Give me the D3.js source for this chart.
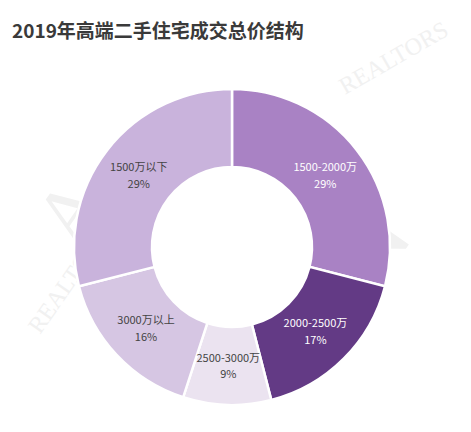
<!DOCTYPE html>
<html>
<head>
<meta charset="utf-8">
<script src="https://cdn.jsdelivr.net/npm/d3@7"></script>
<style>
  body { margin: 0; background: #fff; }
  svg { display: block; font-family: "Noto Sans CJK SC", "Noto Sans", sans-serif; }
</style>
</head>
<body>
<svg width="471" height="432"></svg>
<script>
var categories = ["1500-2000万", "2000-2500万", "2500-3000万", "3000万以上", "1500万以下"];
var shares = [29, 17, 9, 16, 29];
var colors = ["#a982c4", "#633a85", "#ebe3f0", "#d6c6e3", "#c9b3dc"];
var labelColors = ["#fff", "#fff", "#444", "#444", "#444"];

var svg = d3.select("svg"),
    cx = 232, cy = 247,
    outerR = 158, innerR = 80;

// faint watermark
var wm = svg.append("g").attr("fill", "#f1f1f1").attr("font-family", "Liberation Serif, serif");
wm.append("text").attr("transform", "translate(75,250) rotate(-55)")
    .attr("font-size", 80).text("A");
wm.append("text").attr("transform", "translate(345,95) rotate(-30)")
    .attr("font-size", 24).text("REALTORS");
wm.append("text").attr("transform", "translate(370,300) rotate(-55)")
    .attr("font-size", 110).text("N");
wm.append("text").attr("transform", "translate(40,335) rotate(-55)")
    .attr("font-size", 24).text("REALTORS 丽");

svg.append("text")
    .attr("x", 12).attr("y", 38)
    .attr("font-size", 19).attr("font-weight", "bold")
    .attr("fill", "#3a3a3a")
    .text("2019年高端二手住宅成交总价结构");

var data = categories.map(function(c, i) { return {name: c, value: shares[i], i: i}; });

var pie = d3.pie().sort(null).value(function(d) { return d.value; });
var arc = d3.arc().innerRadius(innerR).outerRadius(outerR);
var labelArc = d3.arc().innerRadius(118).outerRadius(118);

var g = svg.append("g").attr("transform", "translate(" + cx + "," + cy + ")");

g.selectAll("path")
    .data(pie(data))
    .enter().append("path")
    .attr("d", arc)
    .attr("fill", function(d) { return colors[d.data.i]; })
    .attr("stroke", "#fff")
    .attr("stroke-width", 2.5);

var labels = g.selectAll(".lbl")
    .data(pie(data))
    .enter().append("text")
    .attr("class", "lbl")
    .attr("transform", function(d) { return "translate(" + labelArc.centroid(d) + ")"; })
    .attr("text-anchor", "middle")
    .attr("font-size", 11)
    .attr("fill", function(d) { return labelColors[d.data.i]; });

labels.append("tspan").attr("x", 0).attr("dy", "-0.3em")
    .text(function(d) { return d.data.name; });
labels.append("tspan").attr("x", 0).attr("dy", "1.5em")
    .text(function(d) { return d.data.value + "%"; });
</script>
</body>
</html>
